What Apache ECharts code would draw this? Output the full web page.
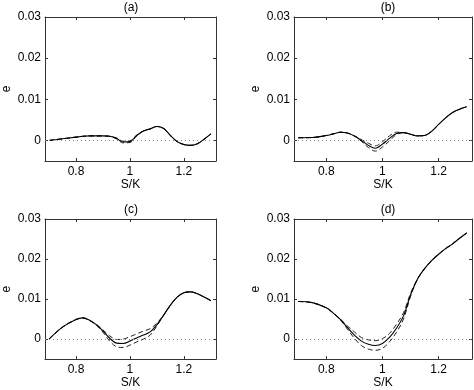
<!DOCTYPE html>
<html>
<head>
<meta charset="utf-8">
<script src="https://cdn.jsdelivr.net/npm/echarts@6/dist/echarts.min.js"></script>
<style>html,body{margin:0;padding:0;background:#fff}#c{width:474px;height:390px}</style>
</head>
<body>
<div id="c"></div>
<script>
// shared S/K sample points
const sk = [0.70,0.75,0.80,0.825,0.85,0.875,0.90,0.925,0.95,0.975,1.00,1.025,1.05,1.075,1.10,1.125,1.15,1.175,1.20,1.225,1.25,1.275,1.30];

// panel (a)
const eA  = [0,0.0004,0.0008,0.0010,0.0011,0.0011,0.0011,0.0010,0.0005,-0.0004,-0.0003,0.0012,0.0023,0.0028,0.0034,0.0029,0.0012,-0.0003,-0.0010,-0.0012,-0.0008,0.0003,0.0016];
const upA = [0,0.0004,0.0008,0.0010,0.0011,0.0011,0.0011,0.0010,0.0006,-0.0002,-0.0001,0.0013,0.0023,0.0028,0.0034,0.0029,0.0012,-0.0003,-0.0010,-0.0012,-0.0008,0.0003,0.0016];
const loA = [0,0.0004,0.0008,0.0010,0.0011,0.0011,0.0011,0.0010,0.0004,-0.0006,-0.0005,0.0011,0.0023,0.0028,0.0034,0.0029,0.0012,-0.0003,-0.0010,-0.0012,-0.0008,0.0003,0.0016];
// panel (b)
const eB  = [0.00066,0.0007,0.0012,0.0016,0.0020,0.0018,0.0011,0.0000,-0.0012,-0.0019,-0.0009,0.0005,0.0017,0.0019,0.0015,0.0011,0.0012,0.0022,0.0039,0.0055,0.0068,0.0076,0.0082];
const upB = [0.00066,0.0007,0.0012,0.0016,0.0020,0.0018,0.0011,0.0002,-0.0007,-0.0013,-0.0003,0.0011,0.0020,0.0019,0.0015,0.0011,0.0012,0.0022,0.0039,0.0055,0.0068,0.0076,0.0082];
const loB = [0.00066,0.0007,0.0012,0.0016,0.0020,0.0018,0.0011,-0.0002,-0.0017,-0.0026,-0.0016,-0.0001,0.0014,0.0019,0.0015,0.0011,0.0012,0.0022,0.0039,0.0055,0.0068,0.0076,0.0082];
// panel (c)
const eC  = [0,0.0030,0.0049,0.0053,0.0047,0.0036,0.0020,0.0002,-0.0010,-0.0011,-0.0005,0.0003,0.0010,0.0018,0.0036,0.0060,0.0085,0.0105,0.0116,0.0118,0.0113,0.0105,0.0096];
const upC = [0,0.0030,0.0049,0.0053,0.0047,0.0037,0.0023,0.0008,-0.0001,0.0000,0.0006,0.0013,0.0020,0.0026,0.0040,0.0060,0.0085,0.0105,0.0116,0.0118,0.0113,0.0105,0.0096];
const loC = [0,0.0030,0.0049,0.0053,0.0047,0.0035,0.0017,-0.0005,-0.0019,-0.0021,-0.0015,-0.0007,0.0000,0.0010,0.0033,0.0060,0.0085,0.0105,0.0116,0.0118,0.0113,0.0105,0.0096];
// panel (d)
const eD  = [0.0094,0.0091,0.0078,0.0065,0.0049,0.0029,0.0010,-0.0005,-0.0013,-0.0016,-0.0011,0.0004,0.0027,0.0058,0.0110,0.0150,0.0176,0.0196,0.0212,0.0226,0.0238,0.0252,0.0265];
const upD = [0.0094,0.0091,0.0078,0.0065,0.0050,0.0033,0.0018,0.0004,-0.0002,-0.0004,0.0001,0.0014,0.0037,0.0066,0.0114,0.0150,0.0176,0.0196,0.0212,0.0226,0.0238,0.0252,0.0265];
const loD = [0.0094,0.0091,0.0078,0.0065,0.0048,0.0025,0.0002,-0.0016,-0.0025,-0.0028,-0.0023,-0.0007,0.0017,0.0050,0.0106,0.0150,0.0176,0.0196,0.0212,0.0226,0.0238,0.0252,0.0265];

const titles = ['(a)','(b)','(c)','(d)'];
const xTicks = [0.8, 1, 1.2];
const yTicks = [0, 0.01, 0.02, 0.03];

const panels = [[eA,upA,loA],[eB,upB,loB],[eC,upC,loC],[eD,upD,loD]];
const boxes = [
  {left:36, top:17, width:180, height:144},
  {left:294, top:17, width:178, height:144},
  {left:36, top:219, width:180, height:143},
  {left:294, top:219, width:178, height:143}
];
const FONT = 'Liberation Sans, Arial, sans-serif';
const axCol = '#333';

const grid = [], xAxis = [], yAxis = [], series = [], title = [];
boxes.forEach((b, i) => {
  grid.push(Object.assign({containLabel:false}, b));
  title.push({text: titles[i], left: b.left + b.width/2, top: i < 2 ? -3 : 199, textAlign: 'center',
    textStyle: {fontSize: 12, fontWeight: 'normal', color: '#000', fontFamily: FONT}});
  const xBase = {type:'value', gridIndex:i, min:0.685, max:1.319, splitLine:{show:false},
    axisLine:{show:true, onZero:false, lineStyle:{color:axCol, width:1}},
    axisTick:{show:true, inside:true, length:3, customValues:xTicks, lineStyle:{color:axCol}}};
  xAxis.push(Object.assign({}, xBase, {position:'bottom',
    name:'S/K', nameLocation:'middle', nameGap:16,
    nameTextStyle:{fontSize:12, color:'#000', fontFamily:FONT},
    axisLabel:{show:true, customValues:xTicks, margin:5, fontSize:12, color:'#000', fontFamily:FONT,
      formatter: v => String(+v.toFixed(2))}}));
  xAxis.push(Object.assign({}, xBase, {position:'top', axisLabel:{show:false}}));
  const yBase = {type:'value', gridIndex:i, min:-0.005, max:0.03, splitLine:{show:false},
    axisLine:{show:true, onZero:false, lineStyle:{color:axCol, width:1}},
    axisTick:{show:true, inside:true, length:3, customValues:yTicks, lineStyle:{color:axCol}}};
  yAxis.push(Object.assign({}, yBase, {position:'left',
    name:'e', nameLocation:'middle', nameGap:32,
    nameTextStyle:{fontSize:12, color:'#000', fontFamily:FONT},
    axisLabel:{show:true, customValues:yTicks, margin:4, fontSize:12, color:'#000', fontFamily:FONT,
      formatter: v => String(+v.toFixed(3))}}));
  yAxis.push(Object.assign({}, yBase, {position:'right', axisLabel:{show:false}}));

  const [e, up, lo] = panels[i];
  const mk = arr => sk.map((x, j) => [x, arr[j]]);
  [up, lo].forEach(arr => series.push({type:'line', xAxisIndex:2*i, yAxisIndex:2*i, data:mk(arr),
    smooth:0.35, symbol:'none', silent:true,
    lineStyle:{color:'#222', width:1, type:[5,3]}}));
  series.push({type:'line', xAxisIndex:2*i, yAxisIndex:2*i, data:mk(e), smooth:0.35, symbol:'none', silent:true,
    lineStyle:{color:'#000', width:1.1},
    markLine:{silent:true, symbol:'none', label:{show:false},
      lineStyle:{color:'#888', type:[1,3], width:1}, data:[{yAxis:0}]}});
});

const chart = echarts.init(document.getElementById('c'), null, {renderer:'canvas'});
chart.setOption({animation:false, backgroundColor:'#fff', title, grid, xAxis, yAxis, series});
</script>
</body>
</html>
